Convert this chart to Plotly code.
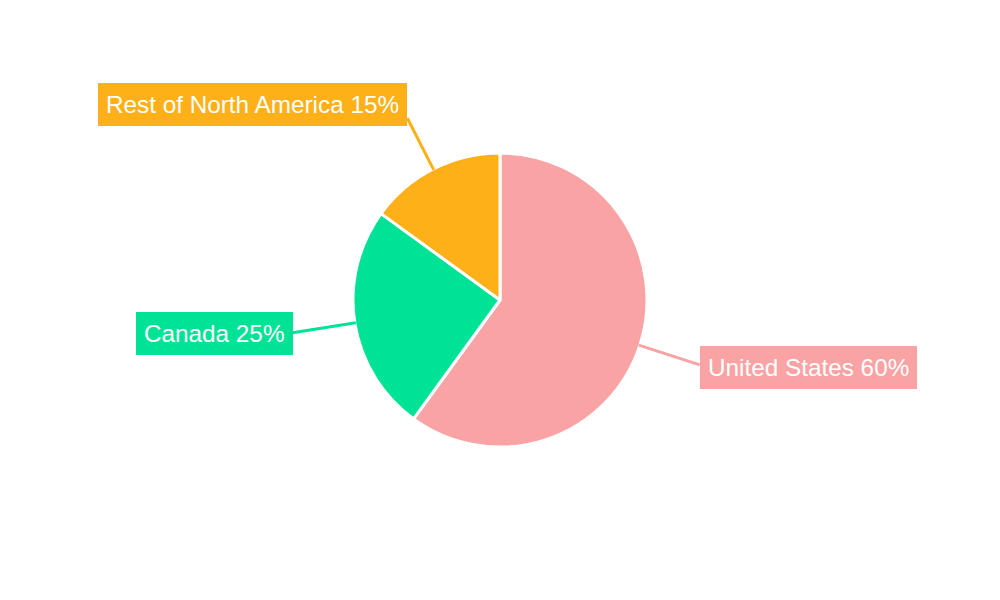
import math
import plotly.graph_objects as go

labels = ["United States", "Canada", "Rest of North America"]
values = [60, 25, 15]
colors = ["#F9A3A4", "#00E396", "#FEB019"]
label_dy = [3, 1, -14]        # vertical nudge of label boxes (px)
line_len = [63, 63, 57]       # leader line lengths (px)

W, H = 1000, 600
OFF = 8                       # page body margin in the browser
CX, CY, R = 500 - OFF, 300 - OFF, 147

fig = go.Figure(go.Pie(
    labels=labels, values=values, sort=False, direction="clockwise", rotation=0,
    marker=dict(colors=colors, line=dict(color="white", width=3)),
    textinfo="none", hoverinfo="label+percent", showlegend=False,
    domain=dict(x=[0, 2 * CX / W], y=[(H - CY - R) / H, (H - CY + R) / H]),
))

total = sum(values)
cum = 0
shapes, annotations = [], []
for lab, v, col, dy, L in zip(labels, values, colors, label_dy, line_len):
    mid = (cum + v / 2) / total * 2 * math.pi
    cum += v
    sx, sy = math.sin(mid), -math.cos(mid)
    x0, y0 = CX + (R - 1) * sx, CY + (R - 1) * sy
    x1, y1 = CX + (R + L) * sx, CY + (R + L) * sy
    shapes.append(dict(type="line", xref="paper", yref="paper",
                       x0=x0 / W, y0=1 - y0 / H, x1=x1 / W, y1=1 - y1 / H,
                       line=dict(color=col, width=3)))
    right = sx >= 0
    annotations.append(dict(
        x=x1 / W, y=1 - (y1 + dy) / H, xref="paper", yref="paper",
        text=f"{lab} {round(v / total * 100)}%", showarrow=False,
        xanchor="left" if right else "right", yanchor="middle",
        bgcolor=col, borderpad=8, borderwidth=0,
        font=dict(family="Liberation Sans, Arial, sans-serif", size=24.3, color="white"),
    ))

fig.update_layout(
    width=W, height=H, margin=dict(l=0, r=0, t=0, b=0),
    paper_bgcolor="white", plot_bgcolor="white",
    shapes=shapes, annotations=annotations,
)
fig.write_html("out.html")
